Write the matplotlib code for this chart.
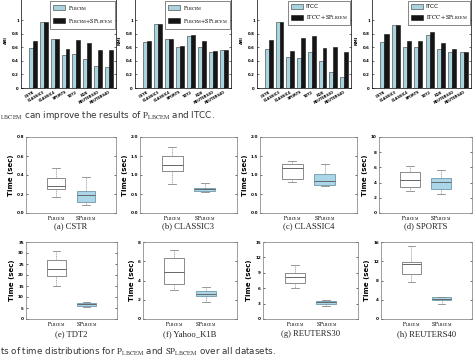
import numpy as np
import matplotlib
matplotlib.use('Agg')
import matplotlib.pyplot as plt

plt.rcParams['mathtext.fontset'] = 'stix'
plt.rcParams['font.family'] = 'DejaVu Sans'

W, H = 474, 360

datasets = ['CSTR', 'CLASSIC3', 'CLASSIC4', 'SPORTS', 'TDT2', 'K1B', 'REUTERS30', 'REUTERS40']

# clustering quality (top row)
ari_p = [0.59, 0.966, 0.72, 0.485, 0.50, 0.42, 0.32, 0.31]
ari_p_sp = [0.69, 0.966, 0.72, 0.58, 0.70, 0.66, 0.56, 0.56]
nmi_p = [0.67, 0.946, 0.725, 0.60, 0.765, 0.61, 0.535, 0.56]
nmi_p_sp = [0.69, 0.946, 0.725, 0.62, 0.78, 0.69, 0.54, 0.56]
ari_itcc = [0.57, 0.965, 0.455, 0.445, 0.53, 0.40, 0.24, 0.157]
ari_itcc_sp = [0.705, 0.965, 0.545, 0.735, 0.77, 0.59, 0.60, 0.53]
nmi_itcc = [0.676, 0.93, 0.60, 0.60, 0.785, 0.58, 0.53, 0.53]
nmi_itcc_sp = [0.80, 0.93, 0.69, 0.69, 0.82, 0.66, 0.58, 0.53]

# time distributions: (whisker low, q1, median, q3, whisker high)
box_names = ['(a) CSTR', '(b) CLASSIC3', '(c) CLASSIC4', '(d) SPORTS',
             '(e) TDT2', '(f) Yahoo_K1B', '(g) REUTERS30', '(h) REUTERS40']
time_p = [
    (0.168, 0.25, 0.286, 0.367, 0.47),
    (0.76, 1.11, 1.27, 1.50, 1.73),
    (0.81, 0.90, 1.19, 1.28, 1.37),
    (2.96, 3.48, 4.39, 5.39, 6.13),
    (15.2, 19.7, 22.7, 26.7, 30.8),
    (3.01, 3.67, 4.84, 6.37, 7.13),
    (6.04, 7.0, 8.18, 9.03, 10.45),
    (7.6, 9.3, 11.4, 11.8, 15.2),
]
time_sp = [
    (0.08, 0.12, 0.19, 0.235, 0.374),
    (0.55, 0.575, 0.62, 0.66, 0.80),
    (0.71, 0.75, 0.84, 1.03, 1.30),
    (2.56, 3.2, 4.13, 4.6, 5.6),
    (5.3, 5.8, 6.7, 7.4, 7.9),
    (1.8, 2.35, 2.63, 2.9, 3.29),
    (2.53, 3.0, 3.25, 3.6, 3.7),
    (3.2, 3.9, 4.15, 4.55, 4.6),
]
time_ticks = [
    [0.0, 0.2, 0.4, 0.6, 0.8],
    [0.0, 0.5, 1.0, 1.5, 2.0],
    [0.0, 0.5, 1.0, 1.5, 2.0],
    [0, 2, 4, 6, 8, 10],
    [0, 5, 10, 15, 20, 25, 30, 35],
    [0, 2, 4, 6, 8],
    [0, 3, 6, 9, 12, 15],
    [0, 4, 8, 12, 16],
]
time_ticklabels = [
    ['0.0', '0.2', '0.4', '0.6', '0.8'],
    ['0.0', '0.5', '1.0', '1.5', '2.0'],
    ['0.0', '0.5', '1.0', '1.5', '2.0'],
    ['0', '2', '4', '6', '8', '10'],
    ['0', '5', '10', '15', '20', '25', '30', '35'],
    ['0', '2', '4', '6', '8'],
    ['0', '3', '6', '9', '12', '15'],
    ['0', '4', '8', '12', '16'],
]

LIGHT = '#a9d3df'
DARK = '#151515'
P = r'$\mathrm{P}_{\mathrm{LBCEM}}$'
SP = r'$\mathrm{SP}_{\mathrm{LBCEM}}$'


def rect(l, t, r, b):
    return [l / W, 1 - b / H, (r - l) / W, (b - t) / H]


fig = plt.figure(figsize=(W / 100, H / 100), dpi=100)


def bar_panel(box, base, improved, ylabel, labels):
    ax = fig.add_axes(box)
    x = np.arange(len(datasets))
    w = 0.36
    ax.bar(x - w / 2, base, w, color=LIGHT, edgecolor='#333333', linewidth=0.4, label=labels[0])
    ax.bar(x + w / 2, improved, w, color=DARK, edgecolor='#111111', linewidth=0.4, label=labels[1])
    ax.set_xlim(-1.1, 7.65)
    ax.set_ylim(0, 1.4)
    ax.set_yticks([0, 0.2, 0.4, 0.6, 0.8, 1])
    ax.set_yticklabels(['0', '0.2', '0.4', '0.6', '0.8', '1'], fontsize=2.8, fontweight='bold')
    ax.set_xticks(x)
    ax.set_xticklabels(datasets, rotation=30, ha='right', rotation_mode='anchor',
                       fontsize=2.5, fontweight='bold')
    ax.tick_params(direction='in', length=1.5, width=0.4, pad=1.5, top=False, right=True)
    ax.set_ylabel(ylabel, fontsize=3, fontweight='bold', labelpad=3)
    ax.spines['top'].set_visible(False)
    for s in ax.spines.values():
        s.set_linewidth(0.5)
    leg = ax.legend(loc='upper right', bbox_to_anchor=(1.0, 0.92), fontsize=4.2,
                    handlelength=2.0, handleheight=0.9, borderpad=0.5, handletextpad=0.5,
                    labelspacing=0.7, fancybox=False, framealpha=1, borderaxespad=0.1)
    leg.get_frame().set_edgecolor('#555555')
    leg.get_frame().set_linewidth(0.5)
    return ax


bar_panel(rect(21, -7.2, 116, 88), ari_p, ari_p_sp, 'ARI', [P, P + r'$+$' + SP])
bar_panel(rect(135, -7.2, 231, 88), nmi_p, nmi_p_sp, 'NMI', [P, P + r'$+$' + SP])
bar_panel(rect(257, -7.2, 351, 88), ari_itcc, ari_itcc_sp, 'ARI', ['ITCC', r'$\mathrm{ITCC}+$' + SP])
bar_panel(rect(372, -7.2, 471, 88), nmi_itcc, nmi_itcc_sp, 'NMI', ['ITCC', r'$\mathrm{ITCC}+$' + SP])

fig.text(0, 1 - 115 / H, r'$_{\mathrm{LBCEM}}$ can improve the results of ' + P + ' and ITCC.',
         fontsize=6.3, color='#333333', va='center', ha='left')

box_x = [(26, 116), (140, 237), (260, 357), (379, 472),
         (26, 117), (143, 237), (263, 358), (381, 472)]
rows = [(137, 213), (137, 213), (137, 213), (137, 213),
        (242, 319), (242, 319), (242, 319), (242, 319)]
cap_gap = [13, 13, 13, 13, 15, 15, 15, 15]

keys = ['whislo', 'q1', 'med', 'q3', 'whishi']
for i in range(8):
    l, r = box_x[i]
    t, b = rows[i]
    ax = fig.add_axes(rect(l, t, r, b))
    stats = [dict(zip(keys, time_p[i]), fliers=[]), dict(zip(keys, time_sp[i]), fliers=[])]
    bp = ax.bxp(stats, positions=[1, 2], widths=0.63, capwidths=0.25, showfliers=False,
                patch_artist=True,
                boxprops=dict(linewidth=0.6, edgecolor='#777777'),
                whiskerprops=dict(linewidth=0.5, color='#888888', linestyle=(0, (1.5, 1))),
                capprops=dict(linewidth=0.6, color='#888888'),
                medianprops=dict(linewidth=0.7, color='#666666'))
    bp['boxes'][0].set_facecolor('white')
    bp['boxes'][1].set_facecolor('#aad6e7')
    bp['boxes'][1].set_edgecolor('#6c9aac')
    ax.set_xlim(0, 3)
    ticks = time_ticks[i]
    ax.set_ylim(ticks[0], ticks[-1])
    ax.set_yticks(ticks)
    ax.set_yticklabels(time_ticklabels[i], fontsize=3, fontweight='bold')
    ax.set_xticks([1, 2])
    ax.set_xticklabels([P, SP], fontsize=4)
    ax.tick_params(axis='y', direction='in', length=1.5, width=0.4, pad=1.5, right=True)
    ax.tick_params(axis='x', length=0, pad=1)
    ax.set_ylabel('Time (sec)', fontsize=5, fontweight='bold', labelpad=2)
    for s in ax.spines.values():
        s.set_linewidth(0.5)
        s.set_color('#777777')
    fig.text((l + r) / 2 / W, 1 - (b + cap_gap[i]) / H, box_names[i], family='Liberation Serif',
             fontsize=6.2, ha='center', va='center', color='#222222')

fig.text(0, 1 - 352 / H, 'ts of time distributions for ' + P + ' and ' + SP + ' over all datasets.',
         fontsize=6.3, color='#333333', va='center', ha='left')

fig.savefig('out.png', dpi=100)
